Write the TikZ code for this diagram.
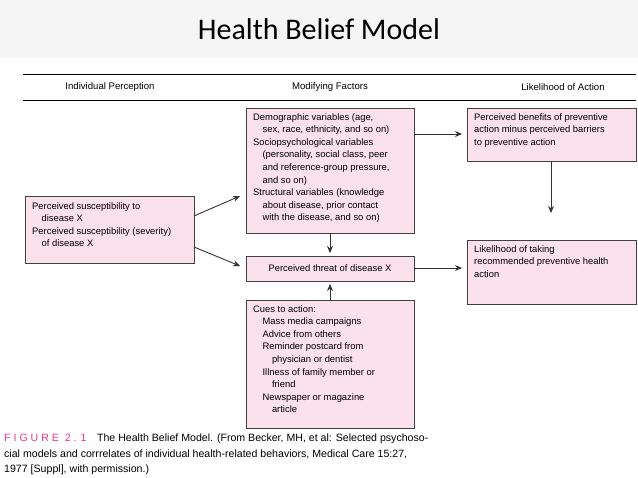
\documentclass[tikz,border=0pt]{standalone}
\usepackage{fontspec}
\setmainfont{Liberation Sans}
\newfontfamily\titlefont{Carlito}
\usetikzlibrary{arrows.meta}
\definecolor{boxpink}{HTML}{FBE1EC}
\definecolor{figpink}{HTML}{E8388A}
\begin{document}
\begin{tikzpicture}[x=1pt,y=-1pt,
  box/.style={draw=black!75,line width=0.9pt,fill=boxpink,inner sep=0pt},
  txt/.style={anchor=north west,align=left,font=\fontsize{9.4}{12.6}\selectfont,inner sep=0pt},
  arr/.style={-{Stealth[length=7pt,width=6pt]},line width=0.9pt,black!80},
  hdr/.style={font=\fontsize{9.6}{11}\selectfont}]
\useasboundingbox (0,0) rectangle (638,478);
\fill[black!4] (0,0) rectangle (638,58);
\node[font=\titlefont\fontsize{30}{34}\selectfont] (title) at (319,29) {Health Belief Model};
\draw[line width=0.9pt] (23,74) -- (636,74);
\draw[line width=0.9pt] (23,100) -- (636,100);
\node[hdr] (h1) at (110,87) {Individual Perception};
\node[hdr] (h2) at (330,87) {Modifying Factors};
\node[hdr] (h3) at (563,87) {Likelihood of Action};
% boxes
\draw[box] (246,108) rectangle (414,233);
\node[txt] (demot) at (253,113) {Demographic variables (age,\\\quad sex, race, ethnicity, and so on)\\Sociopsychological variables\\\quad(personality, social class, peer\\\quad and reference-group pressure,\\\quad and so on)\\Structural variables (knowledge\\\quad about disease, prior contact\\\quad with the disease, and so on)};
\draw[box] (467,108) rectangle (636,161);
\node[txt] (bent) at (474,113) {Perceived benefits of preventive\\action minus perceived barriers\\to preventive action};
\draw[box] (25,196) rectangle (194,263);
\node[txt] (leftt) at (32,202) {Perceived susceptibility to\\\quad disease X\\Perceived susceptibility (severity)\\\quad of disease X};
\draw[box] (246,256) rectangle (414,281);
\node[font=\fontsize{9.4}{11}\selectfont] (threat) at (330,268.5) {Perceived threat of disease X};
\draw[box] (467,240) rectangle (636,304);
\node[txt] (likt) at (474,245) {Likelihood of taking\\recommended preventive health\\action};
\draw[box] (246,300) rectangle (414,428);
\node[txt] (cuest) at (253,305) {Cues to action:\\\quad Mass media campaigns\\\quad Advice from others\\\quad Reminder postcard from\\\qquad physician or dentist\\\quad Illness of family member or\\\qquad friend\\\quad Newspaper or magazine\\\qquad article};
% arrows
\coordinate (a1) at (194,216); \coordinate (b1) at (240,196);
\coordinate (a2) at (194,247); \coordinate (b2) at (240,266);
\coordinate (a3) at (330,233); \coordinate (b3) at (330,253);
\coordinate (a4) at (414,134); \coordinate (b4) at (462,134);
\coordinate (a5) at (551,161); \coordinate (b5) at (551,213);
\coordinate (a6) at (414,268); \coordinate (b6) at (462,268);
\coordinate (a7) at (330,300); \coordinate (b7) at (330,284);
\foreach \i in {1,...,7} \draw[arr] (a\i) -- (b\i);
\node[anchor=north west,align=left,inner sep=0pt,font=\fontsize{10.6}{15.5}\selectfont] (cap) at (4,434)
 {\textcolor{figpink}{F I G U R E\ \ 2 . 1}\quad The Health Belief Model. (From Becker, MH, et al: Selected psychoso-\\cial models and corrrelates of individual health-related behaviors, Medical Care 15:27,\\1977 [Suppl], with permission.)};
\end{tikzpicture}
\end{document}
